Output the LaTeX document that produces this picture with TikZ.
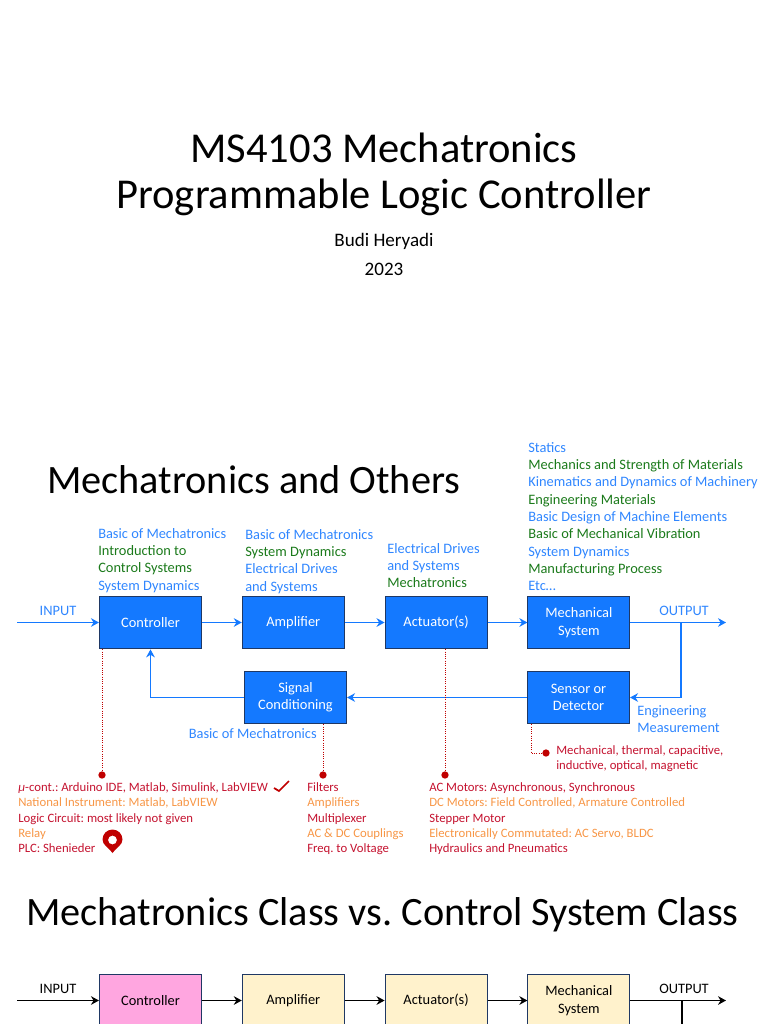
\documentclass[tikz,border=0pt]{standalone}
\usepackage{fontspec}
\setmainfont{Carlito}
\usetikzlibrary{arrows.meta,calc,positioning}
\definecolor{SlideBlue}{HTML}{1479FF}
\definecolor{BlockEdge}{HTML}{1F3864}
\definecolor{TextBlue}{HTML}{2F86FF}
\definecolor{TextGreen}{HTML}{1B7A1B}
\definecolor{TextRed}{HTML}{C4122F}
\definecolor{TextOrange}{HTML}{F79646}
\definecolor{DotRed}{HTML}{C00000}
\definecolor{BlockPink}{HTML}{FFA6E0}
\definecolor{BlockCream}{HTML}{FFF2CC}
\tikzset{
  block/.style={
    draw=BlockEdge, line width=0.8pt, fill=SlideBlue, text=white,
    minimum width=76.5pt, minimum height=39.5pt, inner sep=0pt, align=center,
    font=\fontsize{10.8}{13}\selectfont
  },
  plainblock/.style={block, fill=BlockCream, text=black},
  sigflow/.style={-{Stealth[length=6pt,width=6.5pt]}, line width=1.1pt, draw=SlideBlue},
  blackflow/.style={-{Stealth[length=6pt,width=6.5pt]}, line width=1.1pt, draw=black},
  tapline/.style={densely dotted, line width=0.7pt, draw=DotRed},
  tapdot/.style={circle, fill=DotRed, minimum size=5.5pt, inner sep=0pt},
  siglabel/.style={text=TextBlue, inner sep=0pt, font=\fontsize{10.8}{13}\selectfont},
  toplist/.style={anchor=north west, align=left, inner sep=0pt, text=TextBlue, font=\fontsize{10.8}{13}\selectfont},
  redlist/.style={anchor=north west, align=left, inner sep=0pt, text=TextRed, font=\fontsize{9.55}{11.6}\selectfont},
  heading/.style={inner sep=0pt, text=black, font=\fontsize{30.2}{36}\selectfont}
}
\newcommand{\gr}[1]{{\color{TextGreen}#1}}
\newcommand{\og}[1]{{\color{TextOrange}#1}}

\begin{document}
\frenchspacing
\begin{tikzpicture}[x=0.75pt,y=-0.75pt,node distance=30pt]
    \useasboundingbox (0,0) rectangle (768,1024);
    \node[heading,align=center,font=\fontsize{31.9}{34.5}\selectfont] (title) at (384,174) {MS4103 Mechatronics\\Programmable Logic Controller};
    \node[inner sep=0pt,align=center,font=\fontsize{14.3}{22}\selectfont] (author) at (384,254.5) {Budi Heryadi\\2023};
    \node[heading,anchor=west] (others) at (47,480) {Mechatronics and Others};
    \node[heading,anchor=west] (class) at (26,915) {Mechatronics Class vs. Control System Class};

    % upper chain
    \node[block] (ctrl) at (150.5,622.5) {Controller};
    \node[block,right=29.8pt of ctrl] (amp) {Amplifier};
    \node[block,right=29.8pt of amp] (act) {Actuator(s)};
    \node[block,right=29.8pt of act] (mech) {Mechanical\\System};
    \node[block] (sense) at (578.5,697.5) {Sensor or\\Detector};
    \node[block] (cond) at (295.5,697.5) {Signal\\Conditioning};
    \coordinate (inA) at (17,622.5);
    \coordinate (outA) at (726,622.5);
    \coordinate (tapA) at (681,622.5);
    \draw[sigflow] (inA)--(ctrl);
    \draw[sigflow] (ctrl)--(amp);
    \draw[sigflow] (amp)--(act);
    \draw[sigflow] (act)--(mech);
    \draw[sigflow] (mech)--(outA);
    \draw[sigflow] (tapA)|-(sense.east);
    \draw[sigflow] (sense)--(cond);
    \draw[sigflow] (cond.west)-|(ctrl.south);
    \node[siglabel] (input) at (58,611) {INPUT};
    \node[siglabel] (output) at (684,610.5) {OUTPUT};
    \node[siglabel,anchor=north west,align=left] (meas) at (637,705) {Engineering\\Measurement};
    \node[siglabel,anchor=east] (basic) at (317,733.5) {Basic of Mechatronics};

    % course lists
    \node[toplist] (ctrlnote) at (98,528) {Basic of Mechatronics\\\gr{Introduction to}\\\gr{Control Systems}\\System Dynamics};
    \node[toplist] (ampnote) at (245,529) {Basic of Mechatronics\\\gr{System Dynamics}\\Electrical Drives\\and Systems};
    \node[toplist] (actnote) at (387,543) {Electrical Drives\\and Systems\\\gr{Mechatronics}};
    \node[toplist] (mechnote) at (528,442) {Statics\\\gr{Mechanics and Strength of Materials}\\Kinematics and Dynamics of Machinery\\\gr{Engineering Materials}\\Basic Design of Machine Elements\\\gr{Basic of Mechanical Vibration}\\System Dynamics\\\gr{Manufacturing Process}\\Etc\dots};

    % red taps
    \node[tapdot] (dotA) at (102,775) {};
    \node[tapdot] (dotB) at (323,775) {};
    \node[tapdot] (dotC) at (445,775) {};
    \node[tapdot] (dotD) at (546,753) {};
    \draw[tapline] (ctrl.south -| dotA)--(dotA);
    \draw[tapline] (cond.south -| dotB)--(dotB);
    \draw[tapline] (act.south -| dotC)--(dotC);
    \draw[tapline] ($(sense.south west)+(4,0)$) |- (dotD);
    \node[redlist] (ctrlred) at (18,782) {\textit{µ}-cont.: Arduino IDE, Matlab, Simulink, LabVIEW\\\og{National Instrument: Matlab, LabVIEW}\\Logic Circuit: most likely not given\\\og{Relay}\\PLC: Shenieder};
    \node[redlist] (condred) at (307,782) {Filters\\\og{Amplifiers}\\Multiplexer\\\og{AC \& DC Couplings}\\Freq. to Voltage};
    \node[redlist] (actred) at (429,782) {AC Motors: Asynchronous, Synchronous\\\og{DC Motors: Field Controlled, Armature Controlled}\\Stepper Motor\\\og{Electronically Commutated: AC Servo, BLDC}\\Hydraulics and Pneumatics};
    \node[redlist] (sensered) at (556,745) {Mechanical, thermal, capacitive,\\inductive, optical, magnetic};

    % check and pin
    \draw[DotRed,line width=1.3pt] (274,788)--(279,791)--(289,781);
    \fill[DotRed,even odd rule] (112.5,853) .. controls (108,847) and (102.5,845) .. (102.5,839.5) arc[start angle=180,end angle=360,radius=10] .. controls (122.5,845) and (117,847) .. (112.5,853) -- cycle (112.5,840) circle[radius=4.5];

    % lower chain
    \node[plainblock,fill=BlockPink] (ctrlB) at (150.5,1000.5) {Controller};
    \node[plainblock,right=29.8pt of ctrlB] (ampB) {Amplifier};
    \node[plainblock,right=29.8pt of ampB] (actB) {Actuator(s)};
    \node[plainblock,right=29.8pt of actB] (mechB) {Mechanical\\System};
    \coordinate (inB) at (17,1000.5);
    \coordinate (outB) at (726,1000.5);
    \coordinate (tapB) at (682,1000.5);
    \coordinate (endB) at (682,1024);
    \draw[blackflow] (inB)--(ctrlB);
    \draw[blackflow] (ctrlB)--(ampB);
    \draw[blackflow] (ampB)--(actB);
    \draw[blackflow] (actB)--(mechB);
    \draw[blackflow] (mechB)--(outB);
    \draw[line width=0.8pt] (tapB)--(endB);
    \node[siglabel,text=black] (inputB) at (58,989) {INPUT};
    \node[siglabel,text=black] (outputB) at (684,989) {OUTPUT};
\end{tikzpicture}
\end{document}
